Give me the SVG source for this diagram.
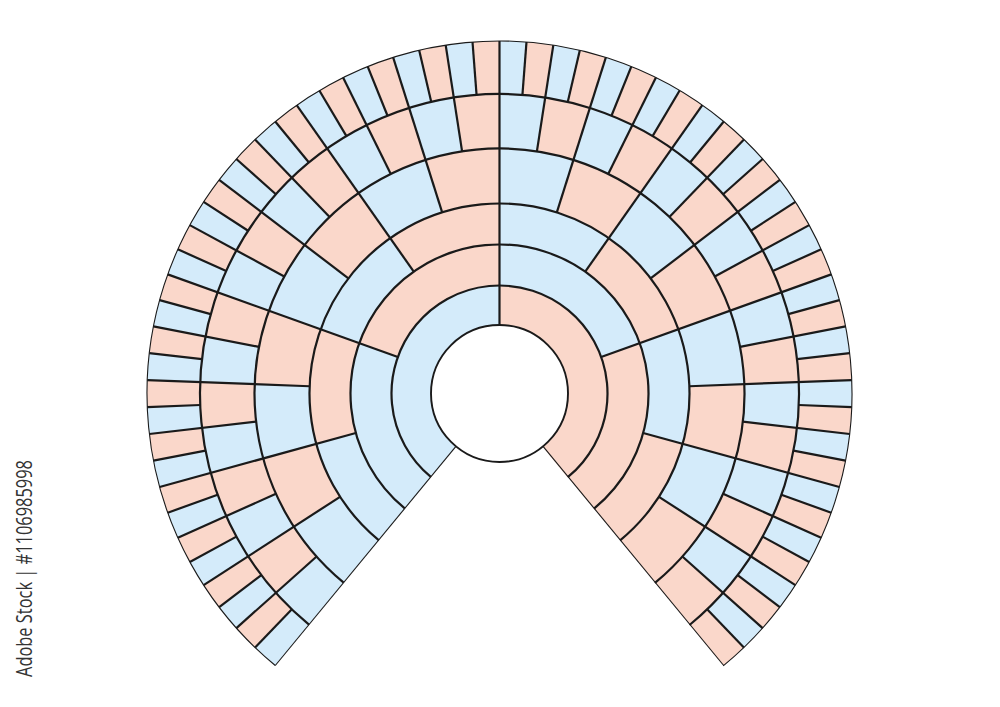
<svg xmlns="http://www.w3.org/2000/svg" xmlns:xlink="http://www.w3.org/1999/xlink" width="1000" height="707" viewBox="0 0 1000 707">
<style>
.b{stroke:#d4ebfa}
.p{stroke:#fad7ca}
.arc{fill:none;stroke:#1a1a1a;stroke-width:2.2}
.thin{stroke-width:1.1}
.div{stroke:#1a1a1a;stroke-width:2.2;fill:none}
.wm{font-family:"Open Sans","Liberation Sans",sans-serif;font-size:21px;fill:#333333}
</style>
<defs>
<circle id="s1" r="88.25" fill="none" stroke-width="39.5" stroke-dasharray="216.8 3000"/>
<circle id="s2" r="128.5" fill="none" stroke-width="41" stroke-dasharray="157.9 3000"/>
<circle id="s3" r="169.5" fill="none" stroke-width="41" stroke-dasharray="104.2 3000"/>
<circle id="s4" r="217.5" fill="none" stroke-width="55" stroke-dasharray="67 3000"/>
<circle id="s5" r="272.25" fill="none" stroke-width="54.5" stroke-dasharray="42 3000"/>
<circle id="s6" r="326" fill="none" stroke-width="53" stroke-dasharray="25.3 3000"/>
<line id="d1" x1="0" y1="-68.5" x2="0" y2="-352.5"/>
<line id="d2" x1="0" y1="-108" x2="0" y2="-352.5"/>
<line id="d3" x1="0" y1="-149" x2="0" y2="-352.5"/>
<line id="d4" x1="0" y1="-190" x2="0" y2="-352.5"/>
<line id="d5" x1="0" y1="-245" x2="0" y2="-352.5"/>
<line id="d6" x1="0" y1="-299.5" x2="0" y2="-352.5"/>
</defs>
<rect width="1000" height="707" fill="#ffffff"/>
<g transform="translate(499.5 393.5) rotate(-230.5)">
<g id="ring1">
<use href="#s1" class="b"/>
<use href="#s1" class="p" transform="rotate(140.5)"/>
</g>
<g id="ring2">
<use href="#s2" class="b"/>
<use href="#s2" class="p" transform="rotate(70.25)"/>
<use href="#s2" class="b" transform="rotate(140.5)"/>
<use href="#s2" class="p" transform="rotate(210.75)"/>
</g>
<g id="ring3">
<use href="#s3" class="b"/>
<use href="#s3" class="p" transform="rotate(35.125)"/>
<use href="#s3" class="b" transform="rotate(70.25)"/>
<use href="#s3" class="p" transform="rotate(105.375)"/>
<use href="#s3" class="b" transform="rotate(140.5)"/>
<use href="#s3" class="p" transform="rotate(175.625)"/>
<use href="#s3" class="b" transform="rotate(210.75)"/>
<use href="#s3" class="p" transform="rotate(245.875)"/>
</g>
<g id="ring4">
<use href="#s4" class="b"/>
<use href="#s4" class="p" transform="rotate(17.5625)"/>
<use href="#s4" class="b" transform="rotate(35.125)"/>
<use href="#s4" class="p" transform="rotate(52.6875)"/>
<use href="#s4" class="b" transform="rotate(70.25)"/>
<use href="#s4" class="p" transform="rotate(87.8125)"/>
<use href="#s4" class="b" transform="rotate(105.375)"/>
<use href="#s4" class="p" transform="rotate(122.9375)"/>
<use href="#s4" class="b" transform="rotate(140.5)"/>
<use href="#s4" class="p" transform="rotate(158.0625)"/>
<use href="#s4" class="b" transform="rotate(175.625)"/>
<use href="#s4" class="p" transform="rotate(193.1875)"/>
<use href="#s4" class="b" transform="rotate(210.75)"/>
<use href="#s4" class="p" transform="rotate(228.3125)"/>
<use href="#s4" class="b" transform="rotate(245.875)"/>
<use href="#s4" class="p" transform="rotate(263.4375)"/>
</g>
<g id="ring5">
<use href="#s5" class="b"/>
<use href="#s5" class="p" transform="rotate(8.78125)"/>
<use href="#s5" class="b" transform="rotate(17.5625)"/>
<use href="#s5" class="p" transform="rotate(26.34375)"/>
<use href="#s5" class="b" transform="rotate(35.125)"/>
<use href="#s5" class="p" transform="rotate(43.90625)"/>
<use href="#s5" class="b" transform="rotate(52.6875)"/>
<use href="#s5" class="p" transform="rotate(61.46875)"/>
<use href="#s5" class="b" transform="rotate(70.25)"/>
<use href="#s5" class="p" transform="rotate(79.03125)"/>
<use href="#s5" class="b" transform="rotate(87.8125)"/>
<use href="#s5" class="p" transform="rotate(96.59375)"/>
<use href="#s5" class="b" transform="rotate(105.375)"/>
<use href="#s5" class="p" transform="rotate(114.15625)"/>
<use href="#s5" class="b" transform="rotate(122.9375)"/>
<use href="#s5" class="p" transform="rotate(131.71875)"/>
<use href="#s5" class="b" transform="rotate(140.5)"/>
<use href="#s5" class="p" transform="rotate(149.28125)"/>
<use href="#s5" class="b" transform="rotate(158.0625)"/>
<use href="#s5" class="p" transform="rotate(166.84375)"/>
<use href="#s5" class="b" transform="rotate(175.625)"/>
<use href="#s5" class="p" transform="rotate(184.40625)"/>
<use href="#s5" class="b" transform="rotate(193.1875)"/>
<use href="#s5" class="p" transform="rotate(201.96875)"/>
<use href="#s5" class="b" transform="rotate(210.75)"/>
<use href="#s5" class="p" transform="rotate(219.53125)"/>
<use href="#s5" class="b" transform="rotate(228.3125)"/>
<use href="#s5" class="p" transform="rotate(237.09375)"/>
<use href="#s5" class="b" transform="rotate(245.875)"/>
<use href="#s5" class="p" transform="rotate(254.65625)"/>
<use href="#s5" class="b" transform="rotate(263.4375)"/>
<use href="#s5" class="p" transform="rotate(272.21875)"/>
</g>
<g id="ring6">
<use href="#s6" class="b"/>
<use href="#s6" class="p" transform="rotate(4.390625)"/>
<use href="#s6" class="b" transform="rotate(8.78125)"/>
<use href="#s6" class="p" transform="rotate(13.171875)"/>
<use href="#s6" class="b" transform="rotate(17.5625)"/>
<use href="#s6" class="p" transform="rotate(21.953125)"/>
<use href="#s6" class="b" transform="rotate(26.34375)"/>
<use href="#s6" class="p" transform="rotate(30.734375)"/>
<use href="#s6" class="b" transform="rotate(35.125)"/>
<use href="#s6" class="p" transform="rotate(39.515625)"/>
<use href="#s6" class="b" transform="rotate(43.90625)"/>
<use href="#s6" class="p" transform="rotate(48.296875)"/>
<use href="#s6" class="b" transform="rotate(52.6875)"/>
<use href="#s6" class="p" transform="rotate(57.078125)"/>
<use href="#s6" class="b" transform="rotate(61.46875)"/>
<use href="#s6" class="p" transform="rotate(65.859375)"/>
<use href="#s6" class="b" transform="rotate(70.25)"/>
<use href="#s6" class="p" transform="rotate(74.640625)"/>
<use href="#s6" class="b" transform="rotate(79.03125)"/>
<use href="#s6" class="p" transform="rotate(83.421875)"/>
<use href="#s6" class="b" transform="rotate(87.8125)"/>
<use href="#s6" class="p" transform="rotate(92.203125)"/>
<use href="#s6" class="b" transform="rotate(96.59375)"/>
<use href="#s6" class="p" transform="rotate(100.984375)"/>
<use href="#s6" class="b" transform="rotate(105.375)"/>
<use href="#s6" class="p" transform="rotate(109.765625)"/>
<use href="#s6" class="b" transform="rotate(114.15625)"/>
<use href="#s6" class="p" transform="rotate(118.546875)"/>
<use href="#s6" class="b" transform="rotate(122.9375)"/>
<use href="#s6" class="p" transform="rotate(127.328125)"/>
<use href="#s6" class="b" transform="rotate(131.71875)"/>
<use href="#s6" class="p" transform="rotate(136.109375)"/>
<use href="#s6" class="b" transform="rotate(140.5)"/>
<use href="#s6" class="p" transform="rotate(144.890625)"/>
<use href="#s6" class="b" transform="rotate(149.28125)"/>
<use href="#s6" class="p" transform="rotate(153.671875)"/>
<use href="#s6" class="b" transform="rotate(158.0625)"/>
<use href="#s6" class="p" transform="rotate(162.453125)"/>
<use href="#s6" class="b" transform="rotate(166.84375)"/>
<use href="#s6" class="p" transform="rotate(171.234375)"/>
<use href="#s6" class="b" transform="rotate(175.625)"/>
<use href="#s6" class="p" transform="rotate(180.015625)"/>
<use href="#s6" class="b" transform="rotate(184.40625)"/>
<use href="#s6" class="p" transform="rotate(188.796875)"/>
<use href="#s6" class="b" transform="rotate(193.1875)"/>
<use href="#s6" class="p" transform="rotate(197.578125)"/>
<use href="#s6" class="b" transform="rotate(201.96875)"/>
<use href="#s6" class="p" transform="rotate(206.359375)"/>
<use href="#s6" class="b" transform="rotate(210.75)"/>
<use href="#s6" class="p" transform="rotate(215.140625)"/>
<use href="#s6" class="b" transform="rotate(219.53125)"/>
<use href="#s6" class="p" transform="rotate(223.921875)"/>
<use href="#s6" class="b" transform="rotate(228.3125)"/>
<use href="#s6" class="p" transform="rotate(232.703125)"/>
<use href="#s6" class="b" transform="rotate(237.09375)"/>
<use href="#s6" class="p" transform="rotate(241.484375)"/>
<use href="#s6" class="b" transform="rotate(245.875)"/>
<use href="#s6" class="p" transform="rotate(250.265625)"/>
<use href="#s6" class="b" transform="rotate(254.65625)"/>
<use href="#s6" class="p" transform="rotate(259.046875)"/>
<use href="#s6" class="b" transform="rotate(263.4375)"/>
<use href="#s6" class="p" transform="rotate(267.828125)"/>
<use href="#s6" class="b" transform="rotate(272.21875)"/>
<use href="#s6" class="p" transform="rotate(276.609375)"/>
</g>
<g id="ring-arcs">
<circle class="arc" r="108" stroke-dasharray="529.7 3000"/>
<circle class="arc" r="149" stroke-dasharray="730.8 3000"/>
<circle class="arc" r="190" stroke-dasharray="931.8 3000"/>
<circle class="arc" r="245" stroke-dasharray="1201.6 3000"/>
<circle class="arc" r="299.5" stroke-dasharray="1468.9 3000"/>
<circle class="arc thin" r="352.5" stroke-dasharray="1728.8 3000"/>
</g>
</g>
<g id="dividers" class="div" transform="translate(499.5 393.5)">
<use href="#d1" class="thin" transform="rotate(-140.5)"/>
<use href="#d6" transform="rotate(-136.109375)"/>
<use href="#d5" transform="rotate(-131.71875)"/>
<use href="#d6" transform="rotate(-127.328125)"/>
<use href="#d4" transform="rotate(-122.9375)"/>
<use href="#d6" transform="rotate(-118.546875)"/>
<use href="#d5" transform="rotate(-114.15625)"/>
<use href="#d6" transform="rotate(-109.765625)"/>
<use href="#d3" transform="rotate(-105.375)"/>
<use href="#d6" transform="rotate(-100.984375)"/>
<use href="#d5" transform="rotate(-96.59375)"/>
<use href="#d6" transform="rotate(-92.203125)"/>
<use href="#d4" transform="rotate(-87.8125)"/>
<use href="#d6" transform="rotate(-83.421875)"/>
<use href="#d5" transform="rotate(-79.03125)"/>
<use href="#d6" transform="rotate(-74.640625)"/>
<use href="#d2" transform="rotate(-70.25)"/>
<use href="#d6" transform="rotate(-65.859375)"/>
<use href="#d5" transform="rotate(-61.46875)"/>
<use href="#d6" transform="rotate(-57.078125)"/>
<use href="#d4" transform="rotate(-52.6875)"/>
<use href="#d6" transform="rotate(-48.296875)"/>
<use href="#d5" transform="rotate(-43.90625)"/>
<use href="#d6" transform="rotate(-39.515625)"/>
<use href="#d3" transform="rotate(-35.125)"/>
<use href="#d6" transform="rotate(-30.734375)"/>
<use href="#d5" transform="rotate(-26.34375)"/>
<use href="#d6" transform="rotate(-21.953125)"/>
<use href="#d4" transform="rotate(-17.5625)"/>
<use href="#d6" transform="rotate(-13.171875)"/>
<use href="#d5" transform="rotate(-8.78125)"/>
<use href="#d6" transform="rotate(-4.390625)"/>
<use href="#d1"/>
<use href="#d6" transform="rotate(4.390625)"/>
<use href="#d5" transform="rotate(8.78125)"/>
<use href="#d6" transform="rotate(13.171875)"/>
<use href="#d4" transform="rotate(17.5625)"/>
<use href="#d6" transform="rotate(21.953125)"/>
<use href="#d5" transform="rotate(26.34375)"/>
<use href="#d6" transform="rotate(30.734375)"/>
<use href="#d3" transform="rotate(35.125)"/>
<use href="#d6" transform="rotate(39.515625)"/>
<use href="#d5" transform="rotate(43.90625)"/>
<use href="#d6" transform="rotate(48.296875)"/>
<use href="#d4" transform="rotate(52.6875)"/>
<use href="#d6" transform="rotate(57.078125)"/>
<use href="#d5" transform="rotate(61.46875)"/>
<use href="#d6" transform="rotate(65.859375)"/>
<use href="#d2" transform="rotate(70.25)"/>
<use href="#d6" transform="rotate(74.640625)"/>
<use href="#d5" transform="rotate(79.03125)"/>
<use href="#d6" transform="rotate(83.421875)"/>
<use href="#d4" transform="rotate(87.8125)"/>
<use href="#d6" transform="rotate(92.203125)"/>
<use href="#d5" transform="rotate(96.59375)"/>
<use href="#d6" transform="rotate(100.984375)"/>
<use href="#d3" transform="rotate(105.375)"/>
<use href="#d6" transform="rotate(109.765625)"/>
<use href="#d5" transform="rotate(114.15625)"/>
<use href="#d6" transform="rotate(118.546875)"/>
<use href="#d4" transform="rotate(122.9375)"/>
<use href="#d6" transform="rotate(127.328125)"/>
<use href="#d5" transform="rotate(131.71875)"/>
<use href="#d6" transform="rotate(136.109375)"/>
<use href="#d1" class="thin" transform="rotate(140.5)"/>
</g>
<g id="center">
<circle cx="499.5" cy="393.5" r="68.5" fill="#ffffff" stroke="#1a1a1a" stroke-width="1.9"/>
</g>
<text class="wm" transform="translate(32 677) rotate(-90)" textLength="217" lengthAdjust="spacingAndGlyphs">Adobe Stock | #1106985998</text>
</svg>
